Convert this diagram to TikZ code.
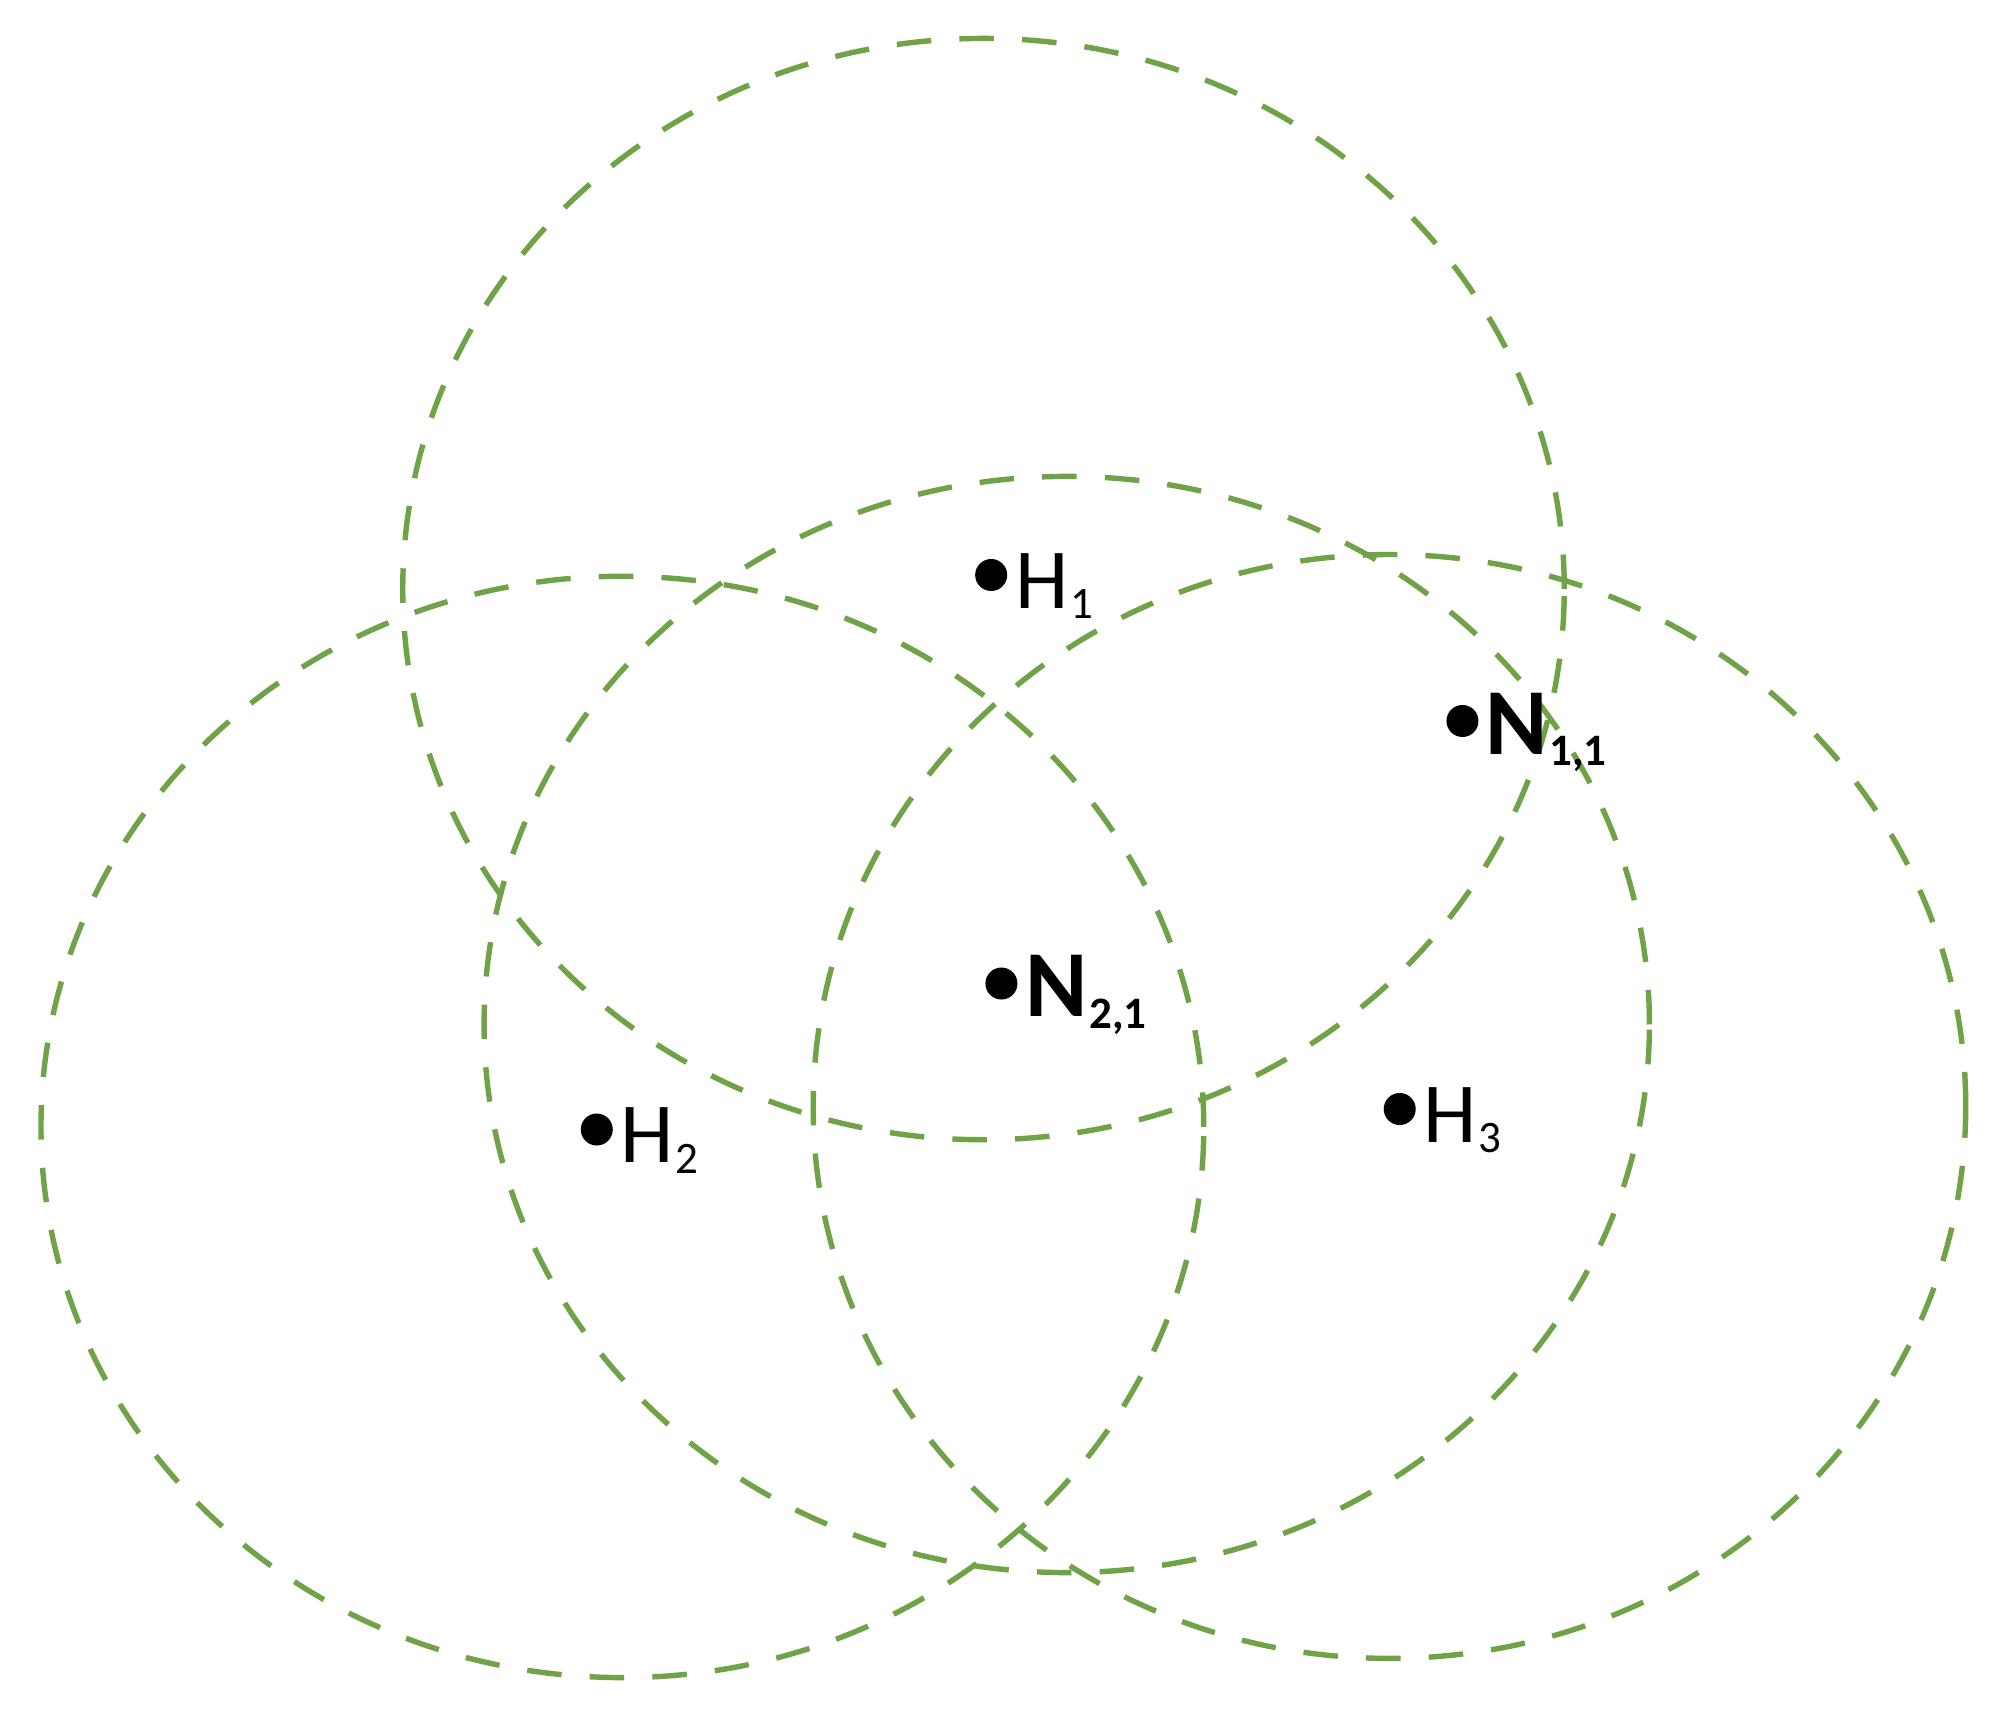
\documentclass[tikz,border=0pt]{standalone}
\usepackage{fontspec}
\setmainfont{Carlito}
\definecolor{ringgreen}{RGB}{112,163,71}
\newcommand{\lowsub}[1]{\hspace{0.02em}\raisebox{-0.12em}{\fontsize{10}{10}\selectfont #1}}
\begin{document}
\begin{tikzpicture}[x=0.1mm,y=-0.1mm,
  ring/.style={draw=ringgreen,line width=1.2pt,dash pattern=on 2.7mm off 2.2mm},
  pt/.style={circle,fill=black,inner sep=0pt,minimum size=2.5mm},
  hlab/.style={anchor=base west,inner sep=0pt,font=\fontsize{19}{20}\selectfont},
  nlab/.style={anchor=base west,inner sep=0pt,font=\fontsize{21}{22}\selectfont\bfseries}]
\useasboundingbox (0,0) rectangle (1568,1338);
\fill[white] (0,0) rectangle (1568,1338);
% rings
\draw[ring] (768,460) ellipse [x radius=45.35mm, y radius=43mm];
\draw[ring] (486,880) ellipse [x radius=45.4mm, y radius=43mm];
\draw[ring] (833,800) ellipse [x radius=45.5mm, y radius=42.8mm];
\draw[ring] (1085,864) ellipse [x radius=45mm, y radius=43.1mm];
% points
\node[pt] (h1) at (774,449) {};
\node[pt] (n11) at (1142,563) {};
\node[pt] (n21) at (782,768) {};
\node[pt] (h2) at (466,882) {};
\node[pt] (h3) at (1093,866) {};
\node[hlab] (lh1) at ([shift={(18,26)}]h1.center) {H\lowsub{1}};
\node[nlab] (ln11) at ([shift={(17,26)}]n11.center) {N\lowsub{1,1}};
\node[nlab] (ln21) at ([shift={(18,26)}]n21.center) {N\lowsub{2,1}};
\node[hlab] (lh2) at ([shift={(18,26)}]h2.center) {H\lowsub{2}};
\node[hlab] (lh3) at ([shift={(18,26)}]h3.center) {H\lowsub{3}};
\end{tikzpicture}
\end{document}
